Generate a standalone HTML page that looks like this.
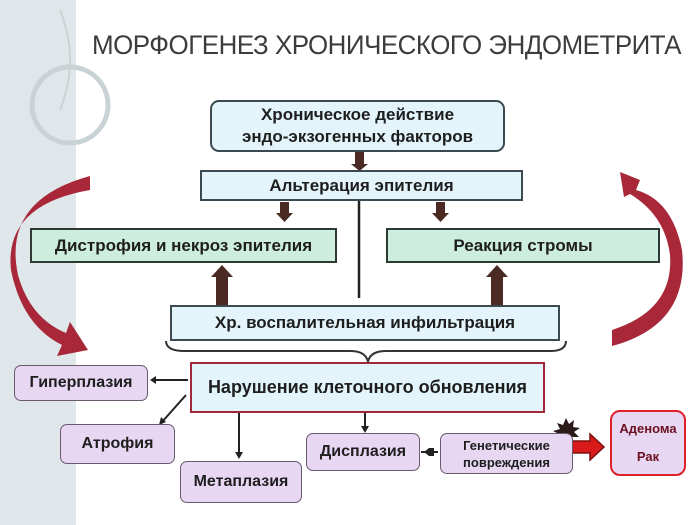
<!DOCTYPE html>
<html><head><meta charset="utf-8"><style>
body{margin:0;width:700px;height:525px;background:#fff;position:relative;overflow:hidden;font-family:"Liberation Sans",sans-serif}
.strip{position:absolute;left:0;top:0;width:76px;height:525px;background:#dfe7ea}
.b{position:absolute;box-sizing:border-box;display:flex;align-items:center;justify-content:center;text-align:center;font-weight:bold;color:#1e1e1e;font-family:"Liberation Sans Narrow","Liberation Sans",sans-serif}
.blue{background:#e3f5fb;border:2px solid #3a4a50}
.green{background:#cdeede;border:2px solid #2c3a33}
.lav{background:#e8d7f2;border:1.5px solid #6a5a6e;border-radius:7px;font-size:16px}
h1{position:absolute;left:92px;top:30px;margin:0;font-weight:normal;font-size:27px;color:#3c3c3c;letter-spacing:-0.5px;transform:scaleX(0.96);transform-origin:left;white-space:nowrap}
svg{position:absolute;left:0;top:0}
</style></head><body>
<div class="strip"></div>
<svg width="700" height="525">
<circle cx="70" cy="105" r="38" fill="none" stroke="#c9d2d4" stroke-width="5"/>
<path d="M60 10 Q80 60 60 110" fill="none" stroke="#cbd3d5" stroke-width="2"/>
</svg>
<h1>МОРФОГЕНЕЗ ХРОНИЧЕСКОГО ЭНДОМЕТРИТА</h1>
<svg width="700" height="525">
<path d="M90,176 Q2,200 18,275 Q30,318 66,333 L70,322 L88,350 L57,356 L62,345 Q22,325 11,270 Q4,205 90,190 Z" fill="#a8283a"/>
<path d="M612,346 Q690,325 682,250 Q672,200 636,190 L640,180 L620,172 L624,197 L630,194 Q665,215 670,255 Q674,310 612,330 Z" fill="#a8283a"/>
<rect x="355" y="152" width="9" height="13" fill="#4a2a22"/><path d="M351,164 h17 l-8.5,7z" fill="#4a2a22"/>
<rect x="280" y="202" width="9" height="12" fill="#4a2a22"/><path d="M276,213 h17 l-8.5,9z" fill="#4a2a22"/>
<rect x="436" y="202" width="9" height="12" fill="#4a2a22"/><path d="M432,213 h17 l-8.5,9z" fill="#4a2a22"/>
<line x1="359" y1="201" x2="359" y2="298" stroke="#222" stroke-width="2.5"/>
<rect x="216" y="276" width="12" height="29" fill="#4a2a22"/><path d="M211,277 h22 l-11,-12z" fill="#4a2a22"/>
<rect x="491" y="276" width="12" height="29" fill="#4a2a22"/><path d="M486,277 h22 l-11,-12z" fill="#4a2a22"/>
<path d="M166,341 Q166,351 185,351 L350,351 Q366,351 368,362 Q370,351 386,351 L550,351 Q566,351 566,341" fill="none" stroke="#333" stroke-width="2"/>
<line x1="188" y1="380" x2="152" y2="380" stroke="#222" stroke-width="2"/><path d="M150,380 l6,-4 v8z" fill="#222"/>
<line x1="186" y1="395" x2="162" y2="422" stroke="#222" stroke-width="2"/><path d="M159,425 l2,-8 5,5z" fill="#222"/>
<line x1="239" y1="412" x2="239" y2="455" stroke="#222" stroke-width="2"/><path d="M239,459 l-4,-7 h8z" fill="#222"/>
<line x1="365" y1="412" x2="365" y2="428" stroke="#222" stroke-width="2"/><path d="M365,433 l-4,-7 h8z" fill="#222"/>
<line x1="421" y1="452" x2="438" y2="452" stroke="#222" stroke-width="2"/><path d="M424,452 l5,-4 h5 v8 h-5z" fill="#222"/>
<path d="M572,441 h18 v-7 l14,13 -14,13 v-7 h-18z" fill="#d81a1a" stroke="#7a1010" stroke-width="1.5"/>
<path d="M566,418 l3,6 5,-4 -1,7 7,1 -6,4 5,5 -7,0 1,7 -5,-5 -4,6 -2,-7 -6,2 3,-6 -6,-3 7,-2 -3,-6 6,2z" fill="#2b1a1a"/>
</svg>
<div class="b blue" style="left:210px;top:100px;width:295px;height:52px;border-radius:9px;font-size:17px;line-height:22px">Хроническое действие<br>эндо-экзогенных факторов</div>
<div class="b blue" style="left:200px;top:170px;width:323px;height:31px;font-size:17px">Альтерация эпителия</div>
<div class="b green" style="left:30px;top:228px;width:307px;height:35px;font-size:17px">Дистрофия и некроз эпителия</div>
<div class="b green" style="left:386px;top:228px;width:274px;height:35px;font-size:17px">Реакция стромы</div>
<div class="b blue" style="left:170px;top:305px;width:390px;height:36px;font-size:17px">Хр. воспалительная инфильтрация</div>
<div class="b" style="left:190px;top:362px;width:355px;height:51px;background:#e3f5fb;border:2.5px solid #a0283a;font-size:18px">Нарушение клеточного обновления</div>
<div class="b lav" style="left:14px;top:365px;width:134px;height:36px">Гиперплазия</div>
<div class="b lav" style="left:60px;top:424px;width:115px;height:40px">Атрофия</div>
<div class="b lav" style="left:180px;top:461px;width:122px;height:42px">Метаплазия</div>
<div class="b lav" style="left:306px;top:433px;width:114px;height:38px">Дисплазия</div>
<div class="b lav" style="left:440px;top:433px;width:133px;height:41px;font-size:13px;line-height:17px">Генетические<br>повреждения</div>
<div class="b lav" style="left:610px;top:410px;width:76px;height:66px;border:2.5px solid #e0202a;border-radius:10px;font-size:13px;line-height:28px;color:#6a1020">Аденома<br>Рак</div>
</body></html>
